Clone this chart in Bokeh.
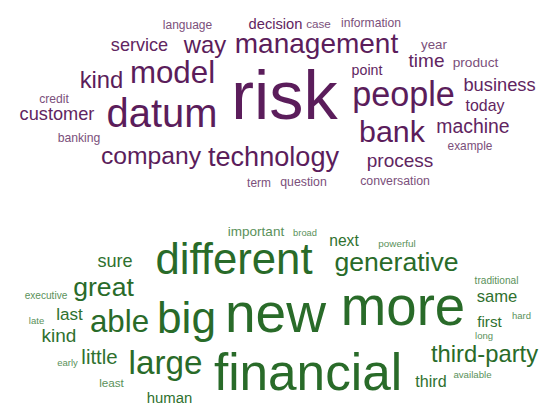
from bokeh.plotting import figure
from bokeh.models import ColumnDataSource, Range1d
from bokeh.embed import file_html
from bokeh.resources import INLINE
from bokeh.core.properties import value

# word weights of the two clouds
noun_words = ["risk", "people", "datum", "management", "technology", "model", "bank",
              "company", "way", "kind", "process", "machine", "customer", "service",
              "business", "time", "today", "point", "product", "year", "decision",
              "information", "question", "conversation", "language", "case", "credit",
              "banking", "example", "term"]
noun_weight = [72, 36, 42, 29.5, 28.5, 33, 32, 26, 25, 25, 20, 20.4, 19.2, 19, 19.3,
               20, 16.7, 15, 14.4, 14, 15.5, 12.7, 13, 12.9, 12.6, 12.3, 12.7, 12.8,
               12.5, 12.5]

adj_words = ["financial", "new", "more", "different", "big", "large", "able",
             "generative", "great", "third-party", "little", "kind", "sure", "last",
             "same", "third", "next", "first", "human", "important", "least",
             "powerful", "traditional", "executive", "available", "broad", "late",
             "hard", "long", "early"]
adj_weight = [54, 58, 57.5, 46, 46.5, 35, 33, 28, 28, 25, 21.5, 20, 19, 18, 17.5, 17,
              16.4, 16, 15.7, 14.2, 12.3, 10.4, 10.6, 10.6, 10.2, 9.8, 10, 10, 10, 10]

# cloud layout: centre / baseline of each word in page pixels
noun_x = [284, 403, 161.5, 316, 273, 172, 391.5, 150.5, 204.5, 101, 399.5, 472.5, 56.5,
          139, 499, 426, 484.5, 366.5, 475, 433.5, 275, 370.5, 303, 394.5, 187, 318,
          53.5, 78.5, 469.5, 258.5]
noun_y = [122, 107, 128, 54, 167, 85, 143, 165, 53, 88, 168, 133, 121, 52, 91, 68,
          111, 75, 67, 49, 29, 27, 186, 185, 29, 28, 103, 142, 150, 187]
adj_x = [307.5, 275, 402.5, 233.5, 186, 165, 119, 396, 103, 484, 99, 58.5, 114.5, 69,
         496.5, 430.5, 343.5, 489, 169, 255.5, 111, 396.5, 496, 45.5, 472, 304.5, 36,
         521, 483.5, 67]
adj_y = [393, 335, 328, 275, 335, 375, 334, 272, 297, 362, 365, 343, 268, 321, 303,
         387, 246, 327, 403, 236, 387, 247, 284, 299, 378, 236, 324, 319, 339, 366]

W, H = 548, 410
SCALE = 0.95


def shade(w, dark, mid, light):
    if w >= 24:
        return dark
    if w >= 15:
        return mid
    return light


def cloud_source(words, weight, xs, ys, dark, mid, light):
    px = [w * SCALE for w in weight]
    return ColumnDataSource(data=dict(
        x=xs,
        y=[b - 0.4 * s for b, s in zip(ys, px)],
        text=words,
        size=["%.1fpx" % s for s in px],
        color=[shade(w, dark, mid, light) for w in weight],
    ))


p = figure(width=W, height=H, output_backend="svg", toolbar_location=None,
           x_range=Range1d(0, W), y_range=Range1d(H, 0), min_border=0)
p.axis.visible = False
p.grid.visible = False
p.outline_line_color = None

nouns = cloud_source(noun_words, noun_weight, noun_x, noun_y,
                     "#5b1d5b", "#612561", "#7b507b")
adjs = cloud_source(adj_words, adj_weight, adj_x, adj_y,
                    "#296b29", "#2f712f", "#5a915a")

for src in (nouns, adjs):
    p.text(x="x", y="y", text="text", source=src, text_font_size="size",
           text_color="color", text_font=value("Liberation Sans"),
           text_align="center", text_baseline="alphabetic")

open("out.html", "w").write(file_html(p, INLINE))
